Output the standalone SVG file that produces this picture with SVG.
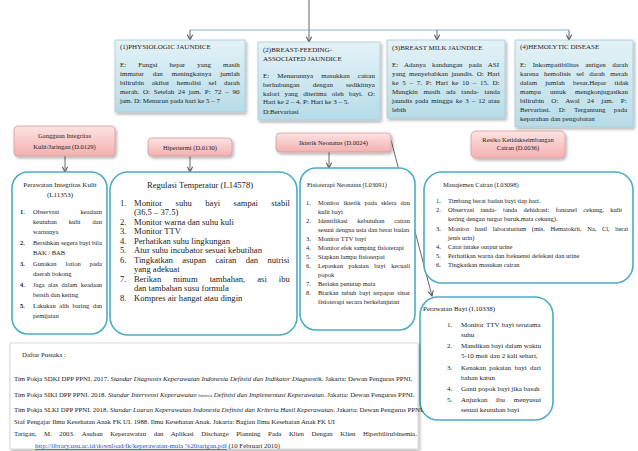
<svg xmlns="http://www.w3.org/2000/svg" width="638" height="451" viewBox="0 0 638 451">
<style>
.t{font-family:"Liberation Serif","Times New Roman",serif;fill:#222;}
.s7{font-size:7px;}
.s65{font-size:6.5px;}
.s86{font-size:8.6px;}
.s68{font-size:6.8px;}
.b{font-weight:bold;}
.c{text-anchor:middle;}
.i{font-style:italic;}
.blue{fill:url(#gb);stroke:#a9cbd8;stroke-width:0.8;filter:url(#sh);}
.pink{fill:url(#gp);stroke:#d99a9a;stroke-width:0.8;filter:url(#sh);}
.rb{fill:#fff;stroke:#4bacc6;stroke-width:1.6;}
.ln{stroke:#555;stroke-width:0.9;fill:none;}
.lb{stroke:#8eb4d9;stroke-width:1.2;fill:none;}
</style>
<defs>
<linearGradient id="gb" x1="0" y1="0" x2="0" y2="1"><stop offset="0" stop-color="#e4f2f7"/><stop offset="1" stop-color="#b6dce8"/></linearGradient>
<linearGradient id="gp" x1="0" y1="0" x2="0" y2="1"><stop offset="0" stop-color="#fde3e3"/><stop offset="1" stop-color="#f4b0b0"/></linearGradient>
<filter id="sh" x="-10%" y="-10%" width="125%" height="135%"><feDropShadow dx="1.5" dy="2" stdDeviation="1.5" flood-color="#000" flood-opacity="0.3"/></filter>
<marker id="a" viewBox="0 0 8 8" refX="7" refY="4" markerWidth="7" markerHeight="7" orient="auto" markerUnits="userSpaceOnUse"><path d="M1,1 L7,4 L1,7" fill="none" stroke="#555" stroke-width="1.2"/></marker>
</defs>

<g id="connectors">
<line class="ln" x1="309" y1="0" x2="309" y2="30"/>
<line class="lb" x1="190" y1="30" x2="569" y2="30"/>
<line class="ln" x1="190" y1="30" x2="190" y2="40" marker-end="url(#a)"/>
<line class="ln" x1="309" y1="30" x2="309" y2="42" marker-end="url(#a)"/>
<line class="ln" x1="437" y1="30" x2="437" y2="40" marker-end="url(#a)"/>
<line class="ln" x1="569" y1="30" x2="569" y2="40" marker-end="url(#a)"/>
<line class="ln" x1="65" y1="156" x2="65" y2="172" marker-end="url(#a)"/>
<line class="ln" x1="190" y1="156" x2="190" y2="172" marker-end="url(#a)"/>
<line class="ln" x1="329" y1="152" x2="329" y2="168" marker-end="url(#a)"/>
<line class="ln" x1="391" y1="140" x2="432" y2="296" marker-end="url(#a)"/>
</g>

<g id="box1">
<rect class="blue" x="115" y="40" width="130" height="72"/>
<text class="t s7" x="120" y="49">(1)PHYSIOLOGIC JAUNDICE</text>
<text class="t s7" x="120" y="67" style="word-spacing:10.4px">E: Fungsi hepar yang masih</text>
<text class="t s7" x="120" y="76" style="word-spacing:7.2px">immatur dan meningkatnya jumlah</text>
<text class="t s7" x="120" y="85" style="word-spacing:6px">bilirubin akibat hemolisi sel darah</text>
<text class="t s7" x="120" y="94" style="word-spacing:2px">merah. O: Setelah 24 jam. P: 72 – 90</text>
<text class="t s7" x="120" y="103">jam. D: Menurun pada hari ke 5 – 7</text>
</g>

<g id="box2">
<rect class="blue" x="258" y="42" width="122" height="78"/>
<text class="t s7" x="263" y="52">(2)BREAST-FEEDING-</text>
<text class="t s7" x="263" y="61">ASSOCIATED JAUNDICE</text>
<text class="t s7" x="263" y="78" style="word-spacing:6.4px">E: Menurunnya masukkan cairan</text>
<text class="t s7" x="263" y="87" style="word-spacing:11.4px">berhubungan dengan sedikitnya</text>
<text class="t s7" x="263" y="96" style="word-spacing:3.4px">kalori yang diterima oleh bayi. O:</text>
<text class="t s7" x="263" y="104">Hari ke 2 – 4. P: Hari  ke 3 – 5.</text>
<text class="t s7" x="263" y="114">D:Bervariasi</text>
</g>

<g id="box3">
<rect class="blue" x="387" y="40" width="118" height="78"/>
<text class="t s7" x="392" y="50">(3)BREAST MILK JAUNDICE</text>
<text class="t s7" x="392" y="67" style="word-spacing:4.4px">E: Adanya kandungan pada ASI</text>
<text class="t s7" x="392" y="76" style="word-spacing:1.7px">yang menyebabkan jaundis. O: Hari</text>
<text class="t s7" x="392" y="85" style="word-spacing:2px">ke 5 – 7. P: Hari ke 10 – 15. D:</text>
<text class="t s7" x="392" y="94" style="word-spacing:4px">Mungkin masih ada tanda- tanda</text>
<text class="t s7" x="392" y="103" style="word-spacing:1.2px">jaundis pada minggu ke 3 – 12 atau</text>
<text class="t s7" x="392" y="112">lebih</text>
</g>

<g id="box4">
<rect class="blue" x="515" y="40" width="118" height="87"/>
<text class="t s7" x="520" y="49">(4)HEMOLYTIC  DISEASE</text>
<text class="t s7" x="520" y="67" style="word-spacing:4.8px">E: Inkompatibilitas antigen darah</text>
<text class="t s7" x="520" y="76" style="word-spacing:3.6px">karena hemolisis sel darah merah</text>
<text class="t s7" x="520" y="85" style="word-spacing:6.5px">dalam jumlah besar.Hepar tidak</text>
<text class="t s7" x="520" y="94" style="word-spacing:7.3px">mampu untuk mengkonjugasikan</text>
<text class="t s7" x="520" y="103" style="word-spacing:5.5px">bilirubin O: Awal 24 jam. P:</text>
<text class="t s7" x="520" y="112" style="word-spacing:6.5px">Bervariasi. D: Tergantung pada</text>
<text class="t s7" x="520" y="121">keparahan dan pengobatan</text>
</g>

<g id="dx1">
<rect class="pink" x="14" y="126" width="101" height="30" rx="4"/>
<text class="t s65 c" x="64.5" y="138">Gangguan Integritas</text>
<text class="t s65 c" x="64.5" y="149">Kulit/Jaringan (D.0129)</text>
</g>
<g id="dx2">
<rect class="pink" x="148" y="138" width="84" height="18" rx="4"/>
<text class="t s65 c" x="190" y="149.5">Hipertermi (D.0130)</text>
</g>
<g id="dx3">
<rect class="pink" x="276" y="133" width="115" height="19" rx="4"/>
<text class="t s65 c" x="333.5" y="145">Ikterik Neonatus (D.0024)</text>
</g>
<g id="dx4">
<rect class="pink" x="471" y="131" width="94" height="27" rx="5"/>
<text class="t s65 c" x="518" y="141.5">Resiko Ketidakseimbangan</text>
<text class="t s65 c" x="518" y="150">Cairan (D.0036)</text>
</g>

<g id="int1">
<rect class="rb" x="12" y="172" width="95" height="162" rx="16"/>
<text class="t s7 c" x="60" y="187">Perawatan Integritas Kulit</text>
<text class="t s7 c" x="60" y="197">(L11353)</text>
<text class="t s65 b" x="20" y="214">1.</text><text class="t s65" x="33" y="214" style="word-spacing:20px">Observasi keadaan</text>
<text class="t s65" x="33" y="224" style="word-spacing:10.3px">keutuhan kulit dan</text>
<text class="t s65" x="33" y="234">warnanya</text>
<text class="t s65 b" x="20" y="245">2.</text><text class="t s65" x="33" y="245">Bersihkan segera bayi bila</text>
<text class="t s65" x="33" y="255">BAK / BAB</text>
<text class="t s65 b" x="20" y="266">3.</text><text class="t s65" x="33" y="266" style="word-spacing:7.4px">Gunakan lotion pada</text>
<text class="t s65" x="33" y="276">daerah bokong</text>
<text class="t s65 b" x="20" y="287">4.</text><text class="t s65" x="33" y="287" style="word-spacing:1.8px">Jaga alas dalam keadaan</text>
<text class="t s65" x="33" y="297">bersih dan kering</text>
<text class="t s65 b" x="20" y="308">5.</text><text class="t s65" x="33" y="308" style="word-spacing:1.9px">Lakukan alih baring dan</text>
<text class="t s65" x="33" y="318">pemijatan</text>
</g>

<g id="int2">
<rect class="rb" x="110" y="172" width="187" height="163" rx="18"/>
<text class="t s86 c" x="200" y="188">Regulasi Temperatur (L14578)</text>
<text class="t s86" x="120" y="206">1.</text><text class="t s86" x="134" y="206" style="word-spacing:11.3px">Monitor suhu bayi sampai stabil</text>
<text class="t s86" x="134" y="215">(36,5 – 37.5)</text>
<text class="t s86" x="120" y="225">2.</text><text class="t s86" x="134" y="225">Monitor warna dan suhu kuli</text>
<text class="t s86" x="120" y="234">3.</text><text class="t s86" x="134" y="234">Monitor TTV</text>
<text class="t s86" x="120" y="244">4.</text><text class="t s86" x="134" y="244">Perhatikan suhu lingkungan</text>
<text class="t s86" x="120" y="253">5.</text><text class="t s86" x="134" y="253">Atur suhu incubator sesuai kebutihan</text>
<text class="t s86" x="120" y="263">6.</text><text class="t s86" x="134" y="263" style="word-spacing:7.2px">Tingkatkan asupan cairan dan nutrisi</text>
<text class="t s86" x="134" y="272">yang adekuat</text>
<text class="t s86" x="120" y="282">7.</text><text class="t s86" x="134" y="282" style="word-spacing:9.9px">Berikan minum tambahan, asi ibu</text>
<text class="t s86" x="134" y="291">dan tambahan susu formula</text>
<text class="t s86" x="120" y="301">8.</text><text class="t s86" x="134" y="301">Kompres air hangat atau dingin</text>
</g>

<g id="int3">
<rect class="rb" x="300" y="168" width="115" height="162" rx="16"/>
<text class="t s65" x="307" y="187">Fisioterapi Neonatus (I.03091)</text>
<text class="t s65" x="306" y="205">1.</text><text class="t s65" x="318" y="205" style="word-spacing:2.5px">Monitor ikterik pada sklera dan</text>
<text class="t s65" x="318" y="214">kulit bayi</text>
<text class="t s65" x="306" y="223">2.</text><text class="t s65" x="318" y="223" style="word-spacing:8.1px">Identifikasi kebutuhan cairan</text>
<text class="t s65" x="318" y="232">sesuai dengna usia dan berat badan</text>
<text class="t s65" x="306" y="241">3.</text><text class="t s65" x="318" y="241">Monitor TTV bayi</text>
<text class="t s65" x="306" y="250">4.</text><text class="t s65" x="318" y="250">Monitor efek samping fisioterapi</text>
<text class="t s65" x="306" y="259">5.</text><text class="t s65" x="318" y="259">Siapkan lampu fisioterpai</text>
<text class="t s65" x="306" y="268">6.</text><text class="t s65" x="318" y="268" style="word-spacing:4px">Lepaskan pakaian bayi kecuali</text>
<text class="t s65" x="318" y="277">popok</text>
<text class="t s65" x="306" y="286">7.</text><text class="t s65" x="318" y="286">Beriakn penutup mata</text>
<text class="t s65" x="306" y="295">8.</text><text class="t s65" x="318" y="295" style="word-spacing:1.25px">Biarkan tubuh bayi terpapar sinar</text>
<text class="t s65" x="318" y="304">fisioterapi secara berkelanjutan</text>
</g>

<g id="int4">
<rect class="rb" x="424" y="172" width="209" height="111" rx="18"/>
<text class="t s65" x="443" y="187">Manajemen Cairan (I.03098)</text>
<text class="t s65" x="436" y="203">1.</text><text class="t s65" x="448" y="203">Timbang berat badan bayi tiap hari.</text>
<text class="t s65" x="436" y="212">2.</text><text class="t s65" x="448" y="212" style="word-spacing:4.8px">Observasi tanda- tanda dehidrasi: fontanel cekung, kulit</text>
<text class="t s65" x="448" y="221">kering dengan turgor buruk,mata cekung).</text>
<text class="t s65" x="436" y="231">3.</text><text class="t s65" x="448" y="231" style="word-spacing:3.9px">Monitor hasil laboraturium (mis. Hematokrit, Na, Cl, berat</text>
<text class="t s65" x="448" y="240">jenis urin)</text>
<text class="t s65" x="436" y="249">4.</text><text class="t s65" x="448" y="249">Catat intake output urine</text>
<text class="t s65" x="436" y="258">5.</text><text class="t s65" x="448" y="258">Perhatikan warna dan frekuensi defekasi dan urine</text>
<text class="t s65" x="436" y="267">6.</text><text class="t s65" x="448" y="267">Tingkatkan masukan cairan</text>
</g>

<g id="int5">
<rect class="rb" x="420" y="297" width="133" height="123" rx="18"/>
<text class="t s7" x="423" y="311">Perawatan Bayi (I.10338)</text>
<text class="t s7" x="447" y="327">1.</text><text class="t s7" x="461" y="327" style="word-spacing:0.5px">Monitor TTV bayi terutama</text>
<text class="t s7" x="461" y="337">suhu</text>
<text class="t s7" x="447" y="348">2.</text><text class="t s7" x="461" y="348">Mandikan bayi dalam waktu</text>
<text class="t s7" x="461" y="358">5-10 meit dan 2 kali sehari,</text>
<text class="t s7" x="447" y="370">3.</text><text class="t s7" x="461" y="370" style="word-spacing:1.7px">Kenakan pakaian bayi dari</text>
<text class="t s7" x="461" y="380">bahan katun</text>
<text class="t s7" x="447" y="391">4.</text><text class="t s7" x="461" y="391">Ganti popok bayi jika basah</text>
<text class="t s7" x="447" y="402">5.</text><text class="t s7" x="461" y="402" style="word-spacing:6.9px">Anjurkan ibu menyusui</text>
<text class="t s7" x="461" y="412">sesuai keutuhan bayi</text>
</g>

<g id="references">
<rect x="10" y="343" width="408" height="106" fill="#fff" stroke="#d0d0d0" stroke-width="0.8" filter="url(#sh)"/>
<text class="t s68" x="22" y="357">Daftar Pustaka :</text>
<text class="t s68" x="14" y="381">Tim Pokja SDKI DPP PPNI. 2017. <tspan class="i">Standar Diagnosis Keperawatan Indonesia Definisi dan Indikator Diagnostik</tspan>. Jakarta: Dewan Pengurus PPNI.</text>
<text class="t s68" x="14" y="397">Tim Pokja SIKI DPP PPNI. 2018. <tspan class="i">Standar Intervensi Keperawatan </tspan><tspan class="i" font-size="3.5px">Indonesia</tspan><tspan class="i"> Definisi dan Implementasi Keperawatan</tspan>. Jakarta: Dewan Pengurus PPNI.</text>
<text class="t s68" x="14" y="412">Tim Pokja SLKI DPP PPNI. 2018. <tspan class="i">Standar Luaran Keperawatan Indonesia Definisi dan Kriteria Hasil Keperawatan</tspan>. Jakarta: Dewan Pengurus PPNI.</text>
<text class="t s68" x="14" y="424">Staf Pengajar Ilmu Kesehatan Anak FK UI. 1988. Ilmu Kesehatan Anak. Jakarta: Bagian Ilmu Kesehatan Anak FK UI</text>
<text class="t s68" x="14" y="436" style="word-spacing:5.9px">Tarigan, M. 2003. Asuhan Keperawatan dan Aplikasi Discharge Planning Pada Klien Dengan Klien Hiperbilirubinemia.</text>
<text class="t s68" x="35" y="448"><tspan fill="#1f4fbf" text-decoration="underline">http://library.usu.ac.id/download/fk/keperawatan-mula %20tarigan.pdf</tspan> (10 Februari 2010)</text>
</g>
</svg>
